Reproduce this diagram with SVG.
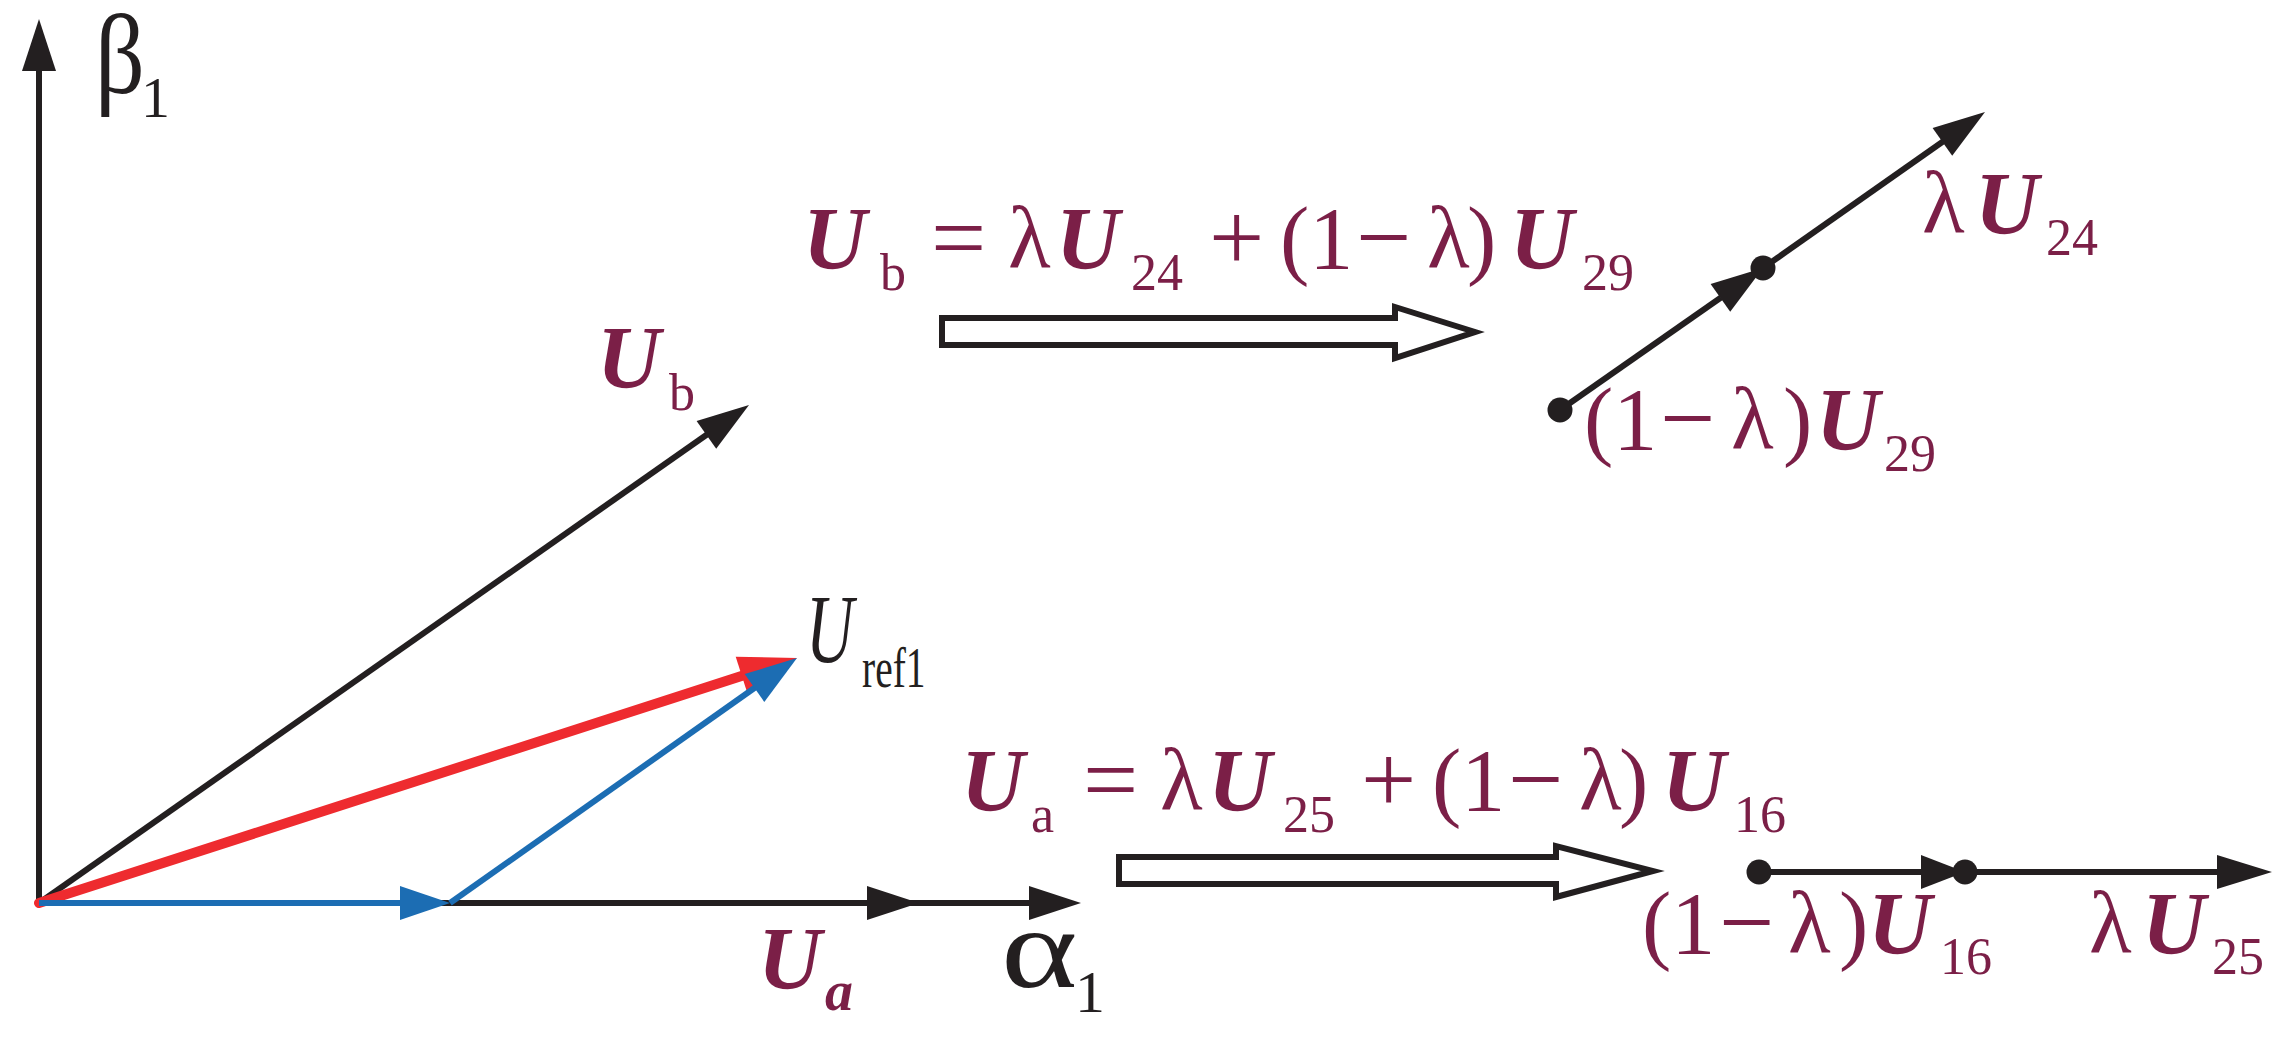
<svg xmlns="http://www.w3.org/2000/svg" width="2287" height="1037" viewBox="0 0 2287 1037">
<style>
.k{stroke:#231f20;stroke-width:6;fill:none}
.kf{fill:#231f20}
.bl{stroke:#1c6db3;stroke-width:6;fill:none}
.blf{fill:#1c6db3}
.hol{fill:#fff;stroke:#231f20;stroke-width:6;stroke-linejoin:miter}
.t{font-family:"Liberation Serif","Times New Roman",serif;fill:#7b1f47}
.tk{font-family:"Liberation Serif","Times New Roman",serif;fill:#231f20}
.bi{font-weight:bold;font-style:italic}
.m{font-size:88px}
.o{font-size:98px}
.s{font-size:52px}
</style>
<rect width="2287" height="1037" fill="#fff"/>

<g id="connectors">
  <line class="k" x1="39" y1="906" x2="39" y2="70"/>
  <polygon class="kf" points="22,71 39,19 56,71"/>
  <line class="k" x1="36" y1="903" x2="1030" y2="903"/>
  <polygon class="kf" points="1029,886 1081,903 1029,920"/>
  <polygon class="kf" points="867,886 919,903 867,920"/>
  <line class="k" x1="39" y1="903" x2="707" y2="434.5"/>
  <polygon class="kf" points="716.2,448.8 749,405 696.6,421"/>
  <line x1="39" y1="903" x2="743" y2="675.5" stroke="#ee2b2f" stroke-width="10" stroke-linecap="round"/>
  <polygon fill="#ee2b2f" points="747.9,694.8 797,658 735.7,656.8"/>
  <line class="bl" x1="39" y1="903" x2="401" y2="903"/>
  <polygon class="blf" points="400,886 450,903 400,920"/>
  <line class="bl" x1="450" y1="903" x2="755.5" y2="687.3"/>
  <polygon class="blf" points="764.3,701.9 797,658 744.7,674.1"/>
  <polygon class="hol" points="942,318 1395,318 1395,307 1475,332 1395,358 1395,345 942,345"/>
  <polygon class="hol" points="1119,857 1556,857 1556,846 1653,871 1556,897 1556,884 1119,884"/>
  <line class="k" x1="1560" y1="410" x2="1721" y2="297.5"/>
  <polygon class="kf" points="1730.2,311.8 1763,268 1710.6,284"/>
  <line class="k" x1="1763" y1="268" x2="1943" y2="141.5"/>
  <polygon class="kf" points="1952.2,155.8 1985,112 1932.6,128.1"/>
  <line class="k" x1="1759" y1="872" x2="2218" y2="872"/>
  <polygon class="kf" points="1921,855 1965,872 1921,889"/>
  <polygon class="kf" points="2217,855 2272,872 2217,889"/>
</g>

<g id="dots">
  <circle class="kf" cx="1560" cy="410" r="12.5"/>
  <circle class="kf" cx="1763" cy="268" r="12.5"/>
  <circle class="kf" cx="1759" cy="872" r="12.5"/>
  <circle class="kf" cx="1965" cy="872" r="12.5"/>
</g>

<g id="axis-labels">
  <text class="tk" font-size="114" transform="translate(95,93) scale(0.86,1)">β</text>
  <text class="tk" x="141" y="117" font-size="58">1</text>
  <text class="tk" font-size="115" transform="translate(1001,987) scale(1.27,1)">α</text>
  <text class="tk" x="1075" y="1012" font-size="60">1</text>
</g>

<g id="label-Ub">
  <text class="t"><tspan class="m bi" x="597" y="387">U</tspan><tspan class="s" x="669" y="410">b</tspan></text>
</g>
<g id="label-Ua">
  <text class="t"><tspan class="m bi" x="758" y="988">U</tspan><tspan class="bi" font-size="56" x="825" y="1010">a</tspan></text>
</g>
<g id="label-Uref1">
  <text class="tk" font-style="italic" font-size="97" transform="translate(806,662) scale(0.68,1)">U</text>
  <text class="tk" font-size="58" transform="translate(862,687) scale(0.68,1)">ref1</text>
</g>

<g id="formula-Ub">
  <text class="t">
    <tspan class="m bi" x="803" y="268">U</tspan>
    <tspan class="s" x="880" y="290">b</tspan>
    <tspan class="o" x="931" y="270">=</tspan>
    <tspan class="m" x="1008" y="268">λ</tspan>
    <tspan class="m bi" x="1056" y="268">U</tspan>
    <tspan class="s" x="1131" y="290">24</tspan>
    <tspan class="o" x="1209" y="270">+</tspan>
    <tspan class="m" x="1280" y="268">(1</tspan>
    <tspan class="o" x="1356" y="270">−</tspan>
    <tspan class="m" x="1427" y="268">λ</tspan>
    <tspan class="m" x="1467" y="268">)</tspan>
    <tspan class="m bi" x="1510" y="268">U</tspan>
    <tspan class="s" x="1582" y="290">29</tspan>
  </text>
</g>

<g id="formula-Ua">
  <text class="t">
    <tspan class="m bi" x="961" y="810">U</tspan>
    <tspan class="s" x="1031" y="832">a</tspan>
    <tspan class="o" x="1083" y="812">=</tspan>
    <tspan class="m" x="1160" y="810">λ</tspan>
    <tspan class="m bi" x="1208" y="810">U</tspan>
    <tspan class="s" x="1283" y="832">25</tspan>
    <tspan class="o" x="1361" y="812">+</tspan>
    <tspan class="m" x="1432" y="810">(1</tspan>
    <tspan class="o" x="1508" y="812">−</tspan>
    <tspan class="m" x="1579" y="810">λ</tspan>
    <tspan class="m" x="1619" y="810">)</tspan>
    <tspan class="m bi" x="1662" y="810">U</tspan>
    <tspan class="s" x="1734" y="832">16</tspan>
  </text>
</g>

<g id="label-lU24">
  <text class="t">
    <tspan class="m" x="1922" y="233">λ</tspan>
    <tspan class="m bi" x="1975" y="233">U</tspan>
    <tspan class="s" x="2046" y="255">24</tspan>
  </text>
</g>
<g id="label-1lU29">
  <text class="t">
    <tspan class="m" x="1584" y="449">(1</tspan>
    <tspan class="o" x="1660" y="451">−</tspan>
    <tspan class="m" x="1731" y="449">λ</tspan>
    <tspan class="m" x="1783" y="449">)</tspan>
    <tspan class="m bi" x="1816" y="449">U</tspan>
    <tspan class="s" x="1884" y="471">29</tspan>
  </text>
</g>
<g id="label-1lU16">
  <text class="t">
    <tspan class="m" x="1642" y="953">(1</tspan>
    <tspan class="o" x="1719" y="955">−</tspan>
    <tspan class="m" x="1788" y="953">λ</tspan>
    <tspan class="m" x="1839" y="953">)</tspan>
    <tspan class="m bi" x="1868" y="953">U</tspan>
    <tspan class="s" x="1940" y="974">16</tspan>
  </text>
</g>
<g id="label-lU25">
  <text class="t">
    <tspan class="m" x="2089" y="953">λ</tspan>
    <tspan class="m bi" x="2142" y="953">U</tspan>
    <tspan class="s" x="2212" y="974">25</tspan>
  </text>
</g>
</svg>
